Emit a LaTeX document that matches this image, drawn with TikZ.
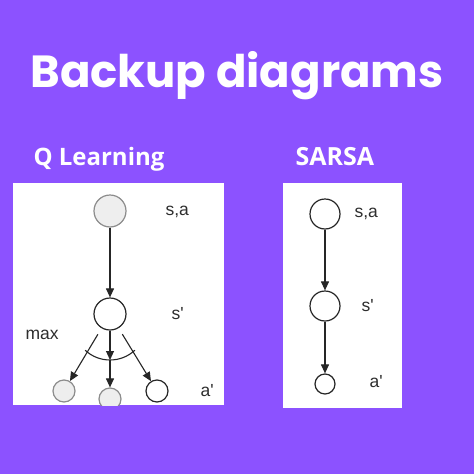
\documentclass[tikz,border=0pt]{standalone}
\usepackage{fontspec}
\usetikzlibrary{arrows.meta}
\setmainfont{Liberation Sans}
\newfontfamily\labelfont{Liberation Sans}[Ligatures=TeXOff]
\newfontfamily\titlefont{Poppins}
\newfontfamily\headfont{Open Sans}
\definecolor{canvapurple}{HTML}{8C52FF}
\definecolor{lightnode}{HTML}{EEEEEE}
\definecolor{labelgray}{HTML}{2E2E2E}
\tikzset{
  state/.style={circle,draw=black!85,line width=1.2pt,fill=white,inner sep=0pt,minimum size=#1},
  state/.default=30pt,
  graystate/.style={state=#1,fill=lightnode,draw=black!45},
  graystate/.default=30pt,
  lbl/.style={text=labelgray,font=\labelfont\fontsize{17.5}{19}\selectfont},
  backup/.style={-{Triangle[length=9pt,width=8pt]},line width=1.1pt,black!85}
}
\begin{document}
\begin{tikzpicture}[x=1pt,y=-1pt]
\fill[canvapurple] (0,0) rectangle (474,474);
\useasboundingbox (0,0) rectangle (474,474);
\node[text=white,font=\titlefont\bfseries\fontsize{45}{50}\selectfont,anchor=base] (title) at (237,87) {Backup diagrams};
\node[text=white,font=\headfont\bfseries\fontsize{24}{28}\selectfont,anchor=base west] (qhead) at (30,165) {Q Learning};
\node[text=white,font=\headfont\bfseries\fontsize{25}{28}\selectfont,anchor=base west] (shead) at (292,165) {SARSA};
% white panels
\fill[white] (13,183) rectangle (224,405);
\fill[white] (283,183) rectangle (402,408);
% Q learning
\begin{scope}
\clip (13,183) rectangle (224,405);
\node[graystate=32pt] (qsa) at (110,211) {};
\node[state=32pt] (qs) at (110,314) {};
\node[graystate=22pt] (qa1) at (64,391) {};
\node[graystate=22pt] (qa2) at (110,399) {};
\node[state=22pt] (qa3) at (157,391) {};
\coordinate (qmid) at (110,360);
\draw[backup] (qsa) -- (qs);
\draw[backup,shorten <=7pt] (qs) -- (qa1);
\draw[backup] (qs) -- (qmid);
\draw[backup] (qmid) -- (qa2);
\draw[backup,shorten <=7pt] (qs) -- (qa3);
\draw[line width=1.1pt,black!85] (110,323.5) ++(47:36.5) arc (47:133:36.5);
\end{scope}
\node[lbl,anchor=west] (qsalbl) at (162,212) {s,a};
\node[lbl,anchor=west] (qslbl) at (168,314) {s'};
\node[lbl,anchor=west] (maxlbl) at (22,335) {max};
\node[lbl,anchor=west] (qalbl) at (197,391) {a'};
% SARSA
\node[state=30pt] (ssa) at (325,214) {};
\node[state=30pt] (ss) at (325,306) {};
\node[state=20pt] (sa) at (325,384) {};
\draw[backup] (ssa) -- (ss);
\draw[backup] (ss) -- (sa);
\node[lbl,anchor=west] (ssalbl) at (351,214) {s,a};
\node[lbl,anchor=west] (sslbl) at (358,306) {s'};
\node[lbl,anchor=west] (salbl) at (366,382) {a'};
\end{tikzpicture}
\end{document}
